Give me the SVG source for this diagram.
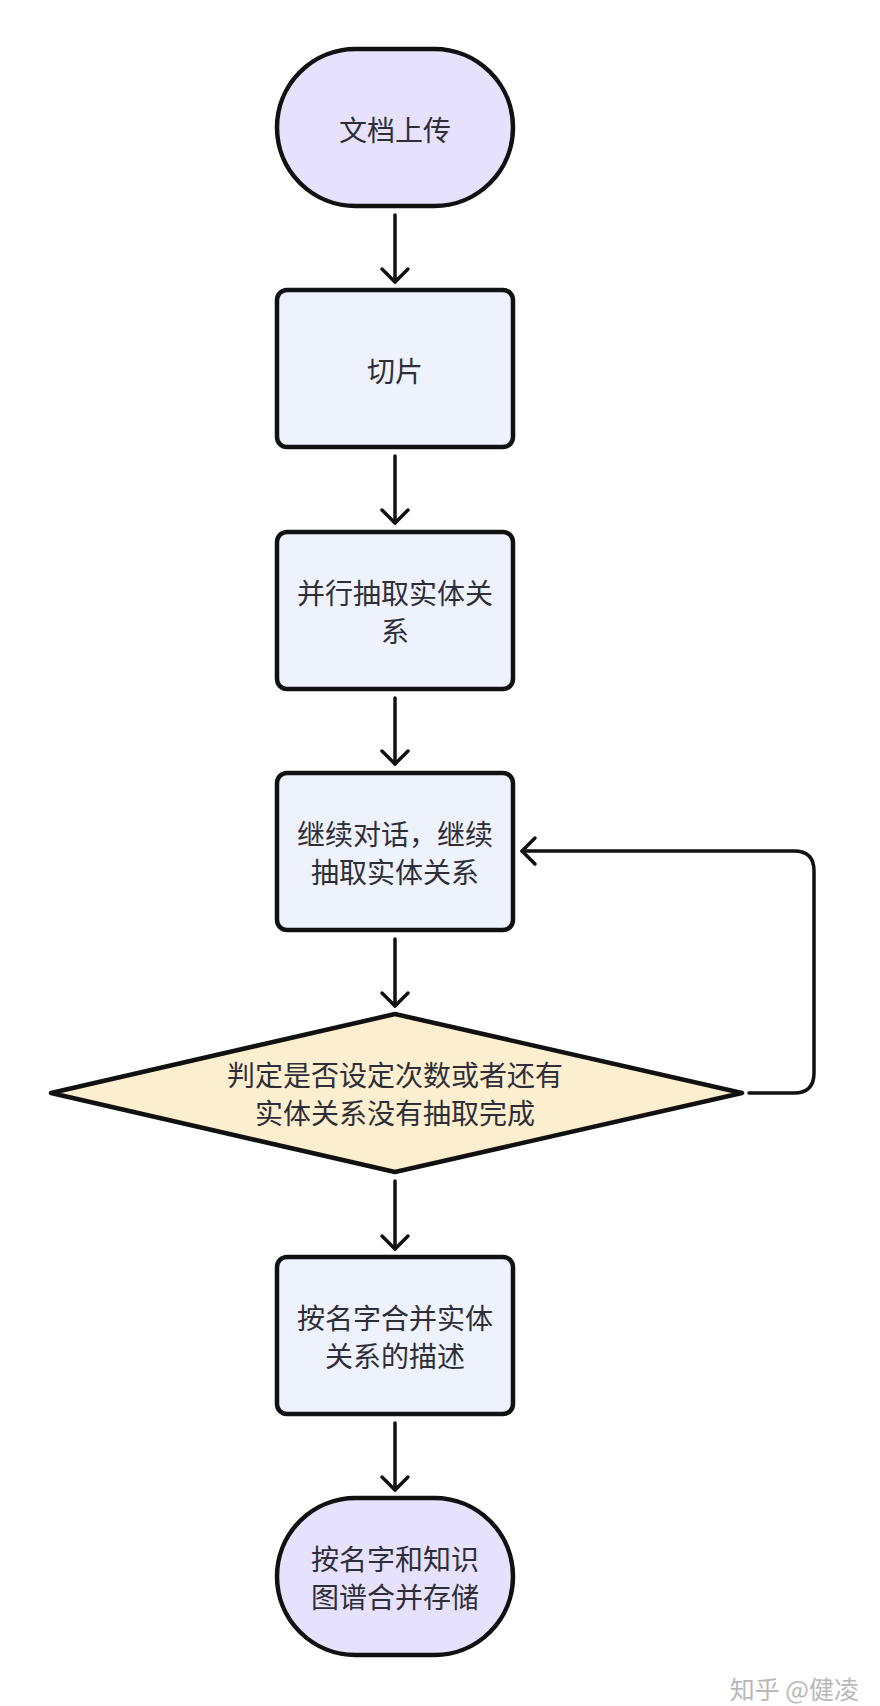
<svg xmlns="http://www.w3.org/2000/svg" width="880" height="1706" viewBox="0 0 880 1706">
<style>
.term{fill:#e6e1fd;stroke:#111;stroke-width:4.5}
.proc{fill:#eef2fc;stroke:#111;stroke-width:4.5}
.dec{fill:#fcefcf;stroke:#111;stroke-width:4.5;stroke-linejoin:round}
.lbl{font-family:"Noto Sans CJK SC","Noto Sans",sans-serif;font-size:28px;fill:#2e2e38;text-anchor:middle;dominant-baseline:central}
.edge{fill:none;stroke:#111;stroke-width:3.5;stroke-linecap:round;stroke-linejoin:round}
.wm{font-family:"Noto Sans CJK SC","Noto Sans",sans-serif;font-size:25px;fill:#b8b8b8;text-anchor:end}
</style>
<defs>
<marker id="arr" markerUnits="userSpaceOnUse" markerWidth="40" markerHeight="40" viewBox="-20 -20 40 40" refX="0" refY="0" orient="auto">
<path d="M -13 -13 L 0 0 L -13 13" fill="none" stroke="#111" stroke-width="3.5" stroke-linecap="round" stroke-linejoin="round"/>
</marker>
</defs>
<rect width="880" height="1706" fill="#ffffff"/>
<g id="connectors">
<path class="edge" d="M 395 215 V 282" marker-end="url(#arr)"/>
<path class="edge" d="M 395 456 V 523" marker-end="url(#arr)"/>
<path class="edge" d="M 395 698 V 764" marker-end="url(#arr)"/>
<path class="edge" d="M 395 939 V 1006" marker-end="url(#arr)"/>
<path class="edge" d="M 395 1181 V 1249" marker-end="url(#arr)"/>
<path class="edge" d="M 395 1423 V 1490" marker-end="url(#arr)"/>
<path class="edge" d="M 749 1093 H 794 Q 814 1093 814 1073 V 871 Q 814 851 794 851 H 522" marker-end="url(#arr)"/>
</g>
<g id="n1">
<rect class="term" x="277" y="49" width="236" height="157" rx="78.5" ry="78.5"/>
<text class="lbl" x="395" y="129">文档上传</text>
</g>
<g id="n2">
<rect class="proc" x="277" y="290" width="236" height="157" rx="10"/>
<text class="lbl" x="395" y="370">切片</text>
</g>
<g id="n3">
<rect class="proc" x="277" y="532" width="236" height="157" rx="10"/>
<text class="lbl" x="395" y="592">并行抽取实体关</text>
<text class="lbl" x="395" y="630">系</text>
</g>
<g id="n4">
<rect class="proc" x="277" y="773" width="236" height="157" rx="10"/>
<text class="lbl" x="395" y="833">继续对话，继续</text>
<text class="lbl" x="395" y="871">抽取实体关系</text>
</g>
<g id="n5">
<polygon class="dec" points="395,1014 742,1093 395,1172 51,1093"/>
<text class="lbl" x="395" y="1074">判定是否设定次数或者还有</text>
<text class="lbl" x="395" y="1112">实体关系没有抽取完成</text>
</g>
<g id="n6">
<rect class="proc" x="277" y="1257" width="236" height="157" rx="10"/>
<text class="lbl" x="395" y="1317">按名字合并实体</text>
<text class="lbl" x="395" y="1355">关系的描述</text>
</g>
<g id="n7">
<rect class="term" x="277" y="1498" width="236" height="157" rx="78.5" ry="78.5"/>
<text class="lbl" x="395" y="1558">按名字和知识</text>
<text class="lbl" x="395" y="1596">图谱合并存储</text>
</g>
<text class="wm" x="859" y="1699">知乎 @健凌</text>
</svg>
